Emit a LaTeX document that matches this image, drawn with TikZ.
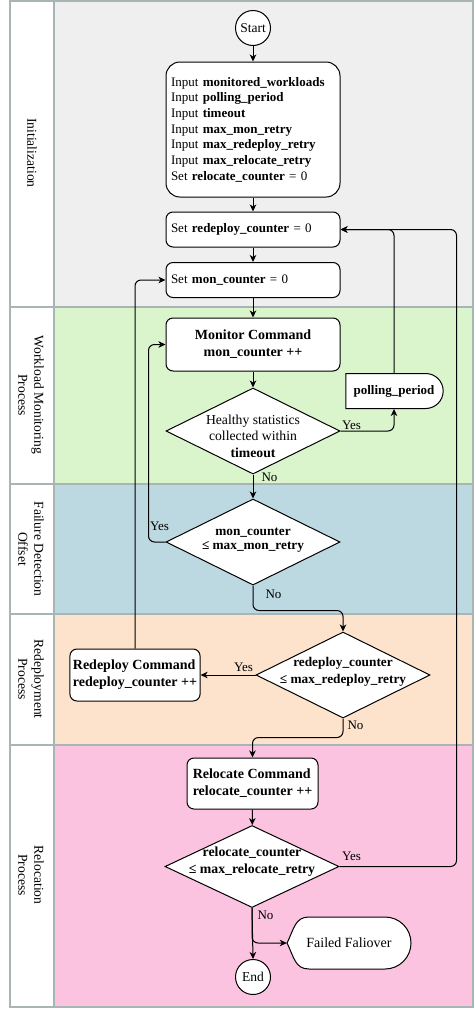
\documentclass[tikz,border=0pt]{standalone}
\usepackage{fontspec}
\setmainfont{Liberation Serif}
\usetikzlibrary{shapes.geometric,shapes.misc,arrows.meta,calc}
\definecolor{lanegray}{HTML}{A9B4B4}
\definecolor{initbg}{HTML}{EFEFEF}
\definecolor{monbg}{HTML}{DAF5CC}
\definecolor{failbg}{HTML}{BCD8E0}
\definecolor{redeploybg}{HTML}{FDE3CC}
\definecolor{relocatebg}{HTML}{FBC3DF}
\begin{document}
\begin{tikzpicture}[x=1pt,y=1pt,
    every node/.style={font=\fontsize{13}{15.7}\selectfont},
    box/.style={draw,line width=1pt,fill=white,rounded corners=7pt,minimum width=174pt,inner sep=5pt},
    cmdbox/.style={box,inner sep=3pt,font=\fontsize{14}{17}\selectfont\bfseries},
    decision/.style={draw,diamond,line width=1pt,fill=white,minimum width=174pt,minimum height=86pt,inner sep=0pt},
    term/.style={draw,circle,line width=1pt,fill=white,minimum size=35pt,inner sep=0pt},
    flow/.style={line width=1pt,rounded corners=6pt,-{Stealth[length=7pt,width=6.5pt,inset=2pt]}},
    lane/.style={draw=lanegray,line width=1.3pt},
    lanetext/.style={rotate=-90,align=center,font=\fontsize{13.6}{16}\selectfont},
    lbl/.style={inner sep=1pt}]
    \useasboundingbox (0,0) rectangle (474,-1010);
    % lanes
    \fill[initbg] (54,-1) rectangle (473,-307);
    \fill[monbg] (54,-307) rectangle (473,-484);
    \fill[failbg] (54,-484) rectangle (473,-614);
    \fill[redeploybg] (54,-614) rectangle (473,-745);
    \fill[relocatebg] (54,-745) rectangle (473,-1007);
    \draw[lane] (10,-1) rectangle (473,-1007);
    \draw[lane] (54,-1) -- (54,-1007);
    \foreach \y in {307,484,614,745}
        \draw[lane] (10,-\y) -- (473,-\y);
    \node[lanetext] (laneinit) at (32,-153) {Initialization};
    \node[lanetext] (lanemon) at (31,-395) {Workload Monitoring\\Process};
    \node[lanetext] (lanefail) at (31,-549) {Failure Detection\\Offset};
    \node[lanetext] (laneredeploy) at (31,-679) {Redeployment\\Process};
    \node[lanetext] (lanerelocate) at (31,-875) {Relocation\\Process};
    % nodes
    \node[term,font=\fontsize{13.5}{15}\selectfont] (start) at (253,-28) {Start};
    \node[box,rounded corners=14pt,minimum height=135pt,text width=164pt,align=left] (init) at (253,-129.5) {Input \textbf{monitored\_workloads}\\
        Input \textbf{polling\_period}\\
        Input \textbf{timeout}\\
        Input \textbf{max\_mon\_retry}\\
        Input \textbf{max\_redeploy\_retry}\\
        Input \textbf{max\_relocate\_retry}\\
        Set \textbf{relocate\_counter} = 0};
    \node[box,minimum height=35pt,text width=164pt,align=left] (setredeploy) at (253,-229.5) {Set \textbf{redeploy\_counter} = 0};
    \node[box,minimum height=35pt,text width=164pt,align=left] (setmon) at (253,-280) {Set \textbf{mon\_counter} = 0};
    \node[cmdbox,minimum height=53pt,align=center] (monitor) at (253,-344.5) {Monitor Command\\mon\_counter ++};
    \node[decision,label={[align=center,yshift=-5pt,font=\fontsize{13.7}{16.5}\selectfont]center:{Healthy statistics\\collected within\\\textbf{timeout}}}] (healthy) at (253,-431) {};
    \node[draw,line width=1pt,fill=white,rounded rectangle,rounded rectangle left arc=none,minimum width=104pt,minimum height=35pt,font=\fontsize{13}{15.7}\selectfont\bfseries] (poll) at (394,-391) {polling\_period};
    \node[decision,label={[align=center,yshift=2pt,font=\fontsize{13.3}{14}\selectfont\bfseries]center:{mon\_counter\\≤ max\_mon\_retry}}] (moncheck) at (253,-542) {};
    \node[decision,label={[align=center,yshift=3pt,font=\fontsize{13.3}{17}\selectfont\bfseries]center:{redeploy\_counter\\≤ max\_redeploy\_retry}}] (redeploycheck) at (343,-675) {};
    \node[cmdbox,minimum width=130pt,minimum height=52pt,align=left] (redeploy) at (135,-675) {Redeploy Command\\redeploy\_counter ++};
    \node[cmdbox,minimum width=131pt,minimum height=51pt,align=left] (relocate) at (252.5,-783.5) {Relocate Command\\relocate\_counter ++};
    \node[decision,minimum height=82pt,label={[align=center,yshift=5pt,font=\fontsize{13.8}{17}\selectfont\bfseries]center:{relocate\_counter\\≤ max\_relocate\_retry}}] (relocatecheck) at (252,-866.5) {};
    \coordinate (failc) at (349,-943);
    \draw[line width=1pt,fill=white] ($(failc)+(-62,0)$) .. controls +(7,14) and +(-14,0) .. ($(failc)+(-40,26)$)
        -- ($(failc)+(36,26)$) arc(90:-90:26) -- ($(failc)+(-40,-26)$)
        .. controls +(-14,0) and +(7,-14) .. ($(failc)+(-62,0)$) -- cycle;
    \node[minimum width=124pt,minimum height=52pt,inner sep=0pt,font=\fontsize{14}{16}\selectfont] (fail) at (failc) {Failed Faliover};
    \node[term,font=\fontsize{13.5}{15}\selectfont] (end) at (253,-977) {End};
    % connectors
    \draw[flow] (start) -- (init);
    \draw[flow] (init) -- (setredeploy);
    \draw[flow] (setredeploy) -- (setmon);
    \draw[flow] (setmon) -- (monitor);
    \draw[flow] (monitor) -- (healthy);
    \draw[flow] (healthy.east) node[lbl,anchor=south west] (healthyyes) {Yes} -| (poll.south);
    \draw[flow] (poll.north) |- (setredeploy.east);
    \draw[flow] (healthy.south) node[lbl,anchor=north west,xshift=7pt,yshift=3pt] (healthyno) {No} -- (moncheck.north);
    \draw[flow] (moncheck.west) node[lbl,anchor=south east,xshift=5pt,yshift=10pt] (monyes) {Yes} -- ++(-17,0) |- (monitor.west);
    \draw[flow] (moncheck.south) node[lbl,anchor=north west,xshift=11pt,yshift=-3pt] (monno) {No} -- ++(0,-25) -| (redeploycheck.north);
    \draw[flow] (redeploycheck.west) node[lbl,anchor=south east,xshift=-1pt,yshift=2pt] (redeployyes) {Yes} -- (redeploy.east);
    \draw[flow] (redeploy.north) |- (setmon.west);
    \draw[flow] (redeploycheck.south) node[lbl,anchor=north west,xshift=3pt,yshift=-1pt] (redeployno) {No} -- ++(0,-19) -| (relocate.north);
    \draw[flow] (relocate) -- (relocatecheck);
    \draw[flow] (relocatecheck.east) node[lbl,anchor=south west,xshift=1pt,yshift=4pt] (relocateyes) {Yes} -- ++(117,0) |- (setredeploy.east);
    \draw[flow] (relocatecheck.south) node[lbl,anchor=north west,xshift=4pt,yshift=-1pt] (relocateno) {No} -- (end.north);
    \draw[flow] (relocatecheck.south) |- (fail.west);
\end{tikzpicture}
\end{document}
